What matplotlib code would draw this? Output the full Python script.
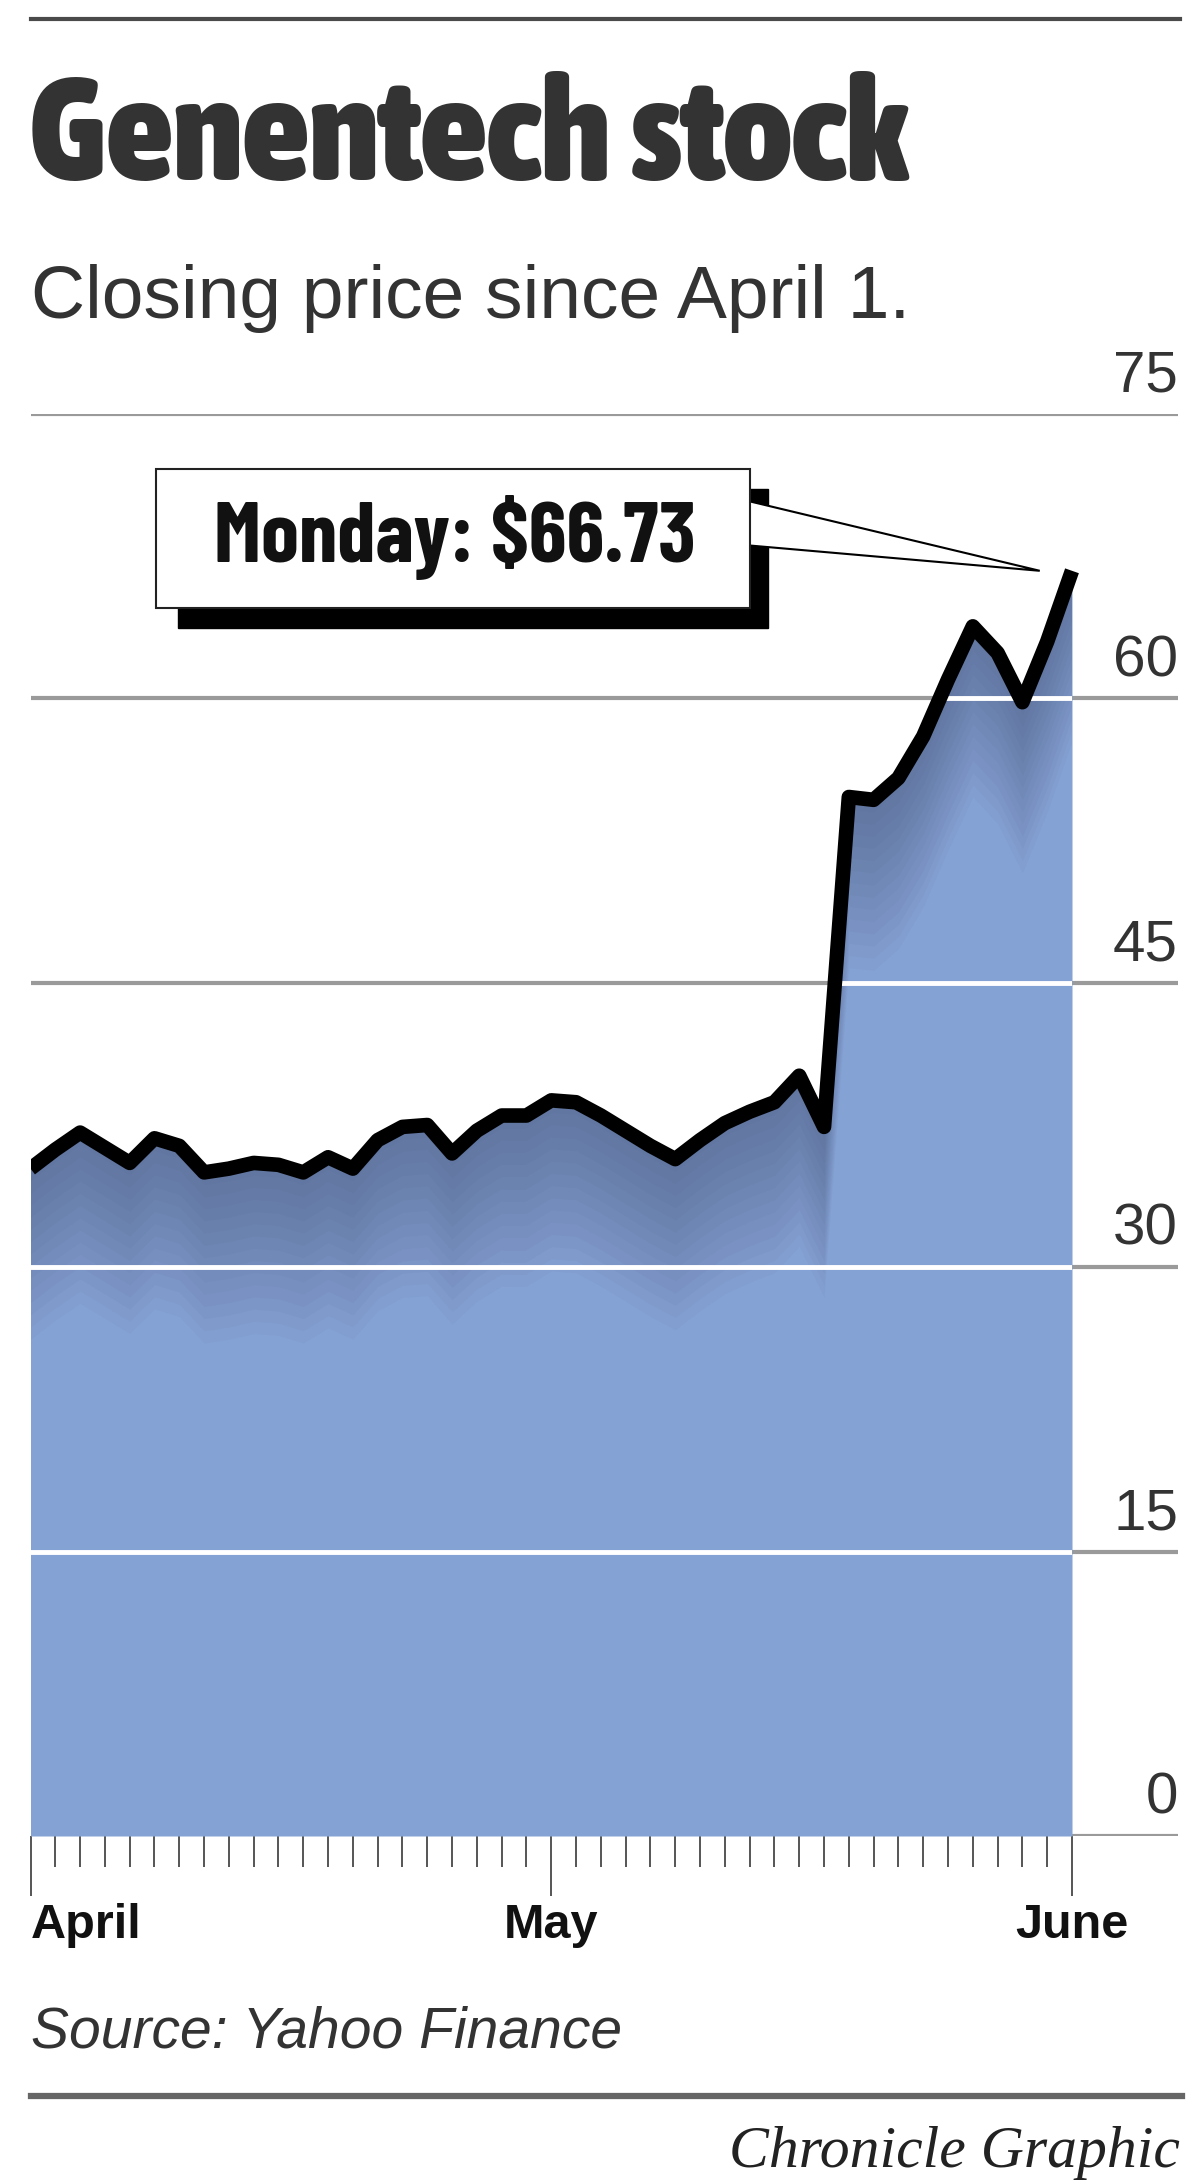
import matplotlib
matplotlib.use("Agg")
import matplotlib.pyplot as plt
from matplotlib import font_manager as fm
from matplotlib.textpath import TextPath
from matplotlib.patches import Rectangle, Polygon
from matplotlib.lines import Line2D
import numpy as np

# closing prices, one per trading day, April 1 .. June 2 (Monday)
prices = [35.2, 36.2, 37.1, 36.3, 35.5, 36.8, 36.4, 35.0, 35.2, 35.5,
          35.4, 35.0, 35.8, 35.2, 36.7, 37.4, 37.5, 36.0, 37.2, 38.0,
          38.0, 38.8, 38.7, 38.0, 37.2, 36.4, 35.7, 36.7, 37.6, 38.2,
          38.7, 40.1, 37.4, 54.8, 54.65, 55.8, 58.0, 61.0, 63.8, 62.4,
          59.8, 63.0, 66.73]
month_pos = [0, 21, 42]
month_labels = ["April", "May", "June"]
y_ticks = [0, 15, 30, 45, 60, 75]

FILL = "#85a2d5"
SHADE = "#3c4866"
GRID = "#9a9a9a"
TEXT = "#333333"
SANS = ["Liberation Sans", "DejaVu Sans"]
SERIF = ["Liberation Serif", "DejaVu Serif"]

W, H = 1200, 2182
DPI = 100


def fx(px):
    return px / W


def fy(py):
    return 1 - py / H


def _weight(w):
    if isinstance(w, str):
        return fm.weight_dict.get(w, 400)
    return w


def condensed_faces():
    out = []
    for f in fm.fontManager.ttflist:
        if "Mono" in f.name:
            continue
        st = f.stretch
        narrow = ("Narrow" in f.name or "Condensed" in f.name or
                  st in ("condensed", "semi-condensed", "extra-condensed", "ultra-condensed") or
                  (isinstance(st, int) and st < 500))
        if narrow and f.style == "normal" and _weight(f.weight) >= 600:
            out.append(f)
    return out


FACES = condensed_faces()


def heaviest_face():
    if not FACES:
        return fm.FontProperties(family="DejaVu Sans", weight="bold")
    best = max(FACES, key=lambda f: _weight(f.weight))
    return fm.FontProperties(fname=best.fname)


fig = plt.figure(figsize=(W / DPI, H / DPI), dpi=DPI)
fig.patch.set_facecolor("white")
renderer = fig.canvas.get_renderer()


def face_for(s, width_px, cap_px):
    # bold condensed face whose capitals come out cap_px tall once s fills width_px
    best, best_d = None, None
    for f in FACES:
        if _weight(f.weight) < 700:
            continue
        prop = fm.FontProperties(fname=f.fname, size=50)
        t = fig.text(0, 0, s, fontproperties=prop)
        w = t.get_window_extent(renderer).width
        t.remove()
        size = 50 * width_px / w
        cap = TextPath((0, 0), "M", size=size, prop=prop).get_extents().height * DPI / 72
        d = abs(cap - cap_px)
        if best_d is None or d < best_d:
            best, best_d = prop, d
    if best is None:
        return heaviest_face()
    return best


def fit_width(txt, width_px, size):
    # scale a text so that it spans width_px
    txt.set_fontsize(size)
    w = txt.get_window_extent(renderer).width
    txt.set_fontsize(size * width_px / w)


# plot area: day 0 at x=30.5px, day 42 at x=1072px, grid runs on to 1178px
x_left, x_day42, x_right = 30.5, 1072, 1178
y_top, y_bot = 414, 1836
ax = fig.add_axes([fx(x_left), fy(y_bot), (x_right - x_left) / W, (y_bot - y_top) / H])
ax.set_xlim(0, 42 * (x_right - x_left) / (x_day42 - x_left))
ax.set_ylim(0, 75)
for s in ax.spines.values():
    s.set_visible(False)
ax.set_facecolor("none")

days = np.arange(len(prices))
pr = np.array(prices)

for v in y_ticks:
    ax.axhline(v, color=GRID, lw=3, zorder=1)

area = ax.fill_between(days, 0, pr, color=FILL, lw=0, zorder=2)
clip = area.get_paths()[0]

# dark shading fading down from the line
depth, n = 9.0, 14
for k in range(1, n + 1):
    sh = ax.fill_between(days, pr - depth * k / n, pr, color=SHADE, alpha=0.04, lw=0, zorder=3)
    sh.set_clip_path(clip, transform=ax.transData)

for v in y_ticks[1:]:
    wl = ax.axhline(v, color="white", lw=3.5, zorder=4)
    wl.set_clip_path(clip, transform=ax.transData)

ax.plot(days, pr, color="black", lw=10.5, solid_joinstyle="round", solid_capstyle="butt", zorder=5)

# x axis ticks
ax.set_yticks([])
ax.set_xticks(days, minor=True)
ax.set_xticks(month_pos, month_labels)
ax.tick_params(axis="x", which="minor", length=22, width=1.4, color="#555555", direction="out")
ax.tick_params(axis="x", which="major", length=43, width=1.4, color="#555555", direction="out", pad=5)
for i, lab in enumerate(ax.get_xticklabels()):
    lab.set_fontfamily(SANS)
    lab.set_fontweight("bold")
    lab.set_fontsize(35)
    lab.set_color("#111111")
    if i == 0:
        lab.set_ha("left")

# y labels sit above their gridlines at the right
for v in y_ticks:
    ax.annotate(str(v), xy=(1, v), xycoords=("axes fraction", "data"), xytext=(0, 16),
                textcoords="offset points", ha="right", va="baseline",
                fontsize=42, family=SANS, color=TEXT)

# callout box for last price
label = "Monday: $%.2f" % prices[-1]
tip = fig.transFigure.inverted().transform(ax.transData.transform((days[-1] - 1.3, prices[-1])))
fig.add_artist(Rectangle((fx(178), fy(628)), (768 - 178) / W, (628 - 489) / H,
                         transform=fig.transFigure, color="black", zorder=10))
fig.add_artist(Polygon([(fx(744), fy(500)), tuple(tip), (fx(744), fy(545))],
                       closed=True, transform=fig.transFigure, fc="white", ec="black",
                       lw=1.5, zorder=11))
fig.add_artist(Rectangle((fx(155.6), fy(608)), (750 - 155.6) / W, (608 - 469) / H,
                         transform=fig.transFigure, fc="white", ec="#222222", lw=1.5, zorder=12))
callout = fig.text(fx(455), fy(562), label, ha="center", va="baseline",
                   fontproperties=face_for(label, 482, 60), color="#111111", zorder=13)
fit_width(callout, 482, 58)

# titles and rules
fig.add_artist(Line2D([fx(31), fx(1180)], [fy(19), fy(19)], color="#4a4a4a", lw=3))
title = fig.text(fx(30), fy(180), "Genentech stock", ha="left", va="baseline",
                 fontproperties=heaviest_face(), color=TEXT)
fit_width(title, 880, 96)
fig.text(fx(31), fy(318), "Closing price since April 1.", ha="left", va="baseline",
         fontsize=54, family=SANS, color=TEXT)

fig.text(fx(31), fy(2048), "Source: Yahoo Finance", ha="left", va="baseline",
         fontsize=41, style="italic", family=SANS, color=TEXT)
fig.add_artist(Line2D([fx(31), fx(1182)], [fy(2096), fy(2096)], color="#666666", lw=4.5))
fig.text(fx(1180), fy(2167), "Chronicle Graphic", ha="right", va="baseline",
         fontsize=43, style="italic", family=SERIF, color="#222222")

fig.savefig("out.png", dpi=DPI)
